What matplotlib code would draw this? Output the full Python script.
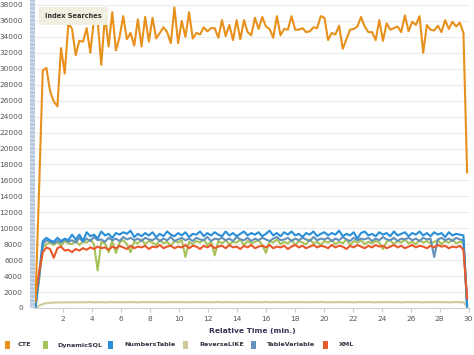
import numpy as np
import matplotlib
matplotlib.use("Agg")
import matplotlib.pyplot as plt
from matplotlib.patches import Rectangle

# ---------------- data ----------------
series_names = ["CTE", "DynamicSQL", "NumbersTable", "ReverseLIKE", "TableVariable", "XML"]
series_colors = ["#E8901C", "#A8C25A", "#2A8FD8", "#CDC99C", "#6590B8", "#E9582C"]

cte = [800, 15000, 29800, 30100, 27200, 25900, 25300, 32600, 29400, 35700, 35000, 31700, 33500, 33400,
       35100, 32000, 36200, 36000, 30500, 36700, 32800, 37100, 32300, 34000, 36600, 33700, 34500, 32900,
       36200, 32800, 36500, 33400, 36400, 33800, 34500, 35200, 34600, 33200,
       37700, 33200, 36000, 34000, 37100, 33800, 34500, 34300, 35200, 34700, 35100, 35100, 33900, 36100,
       34100, 35500, 33600, 36100, 33700, 36100, 34600, 34200, 36400, 35000, 36500, 35300, 35000, 33900,
       36600, 34200, 35000, 34900, 36600, 34900, 34900, 35100, 34600, 34700, 35200, 35100,
       36600, 36400, 33600, 34500, 34300, 35400, 32500, 33700, 34900, 35000, 35300, 36500, 35300, 34600,
       34600, 33600, 36100, 33500, 35700, 34900, 35100, 35300, 34600, 36700, 34700, 35900, 35500, 36600,
       32000, 35500, 34900, 34800, 35400, 34600, 36100, 35000, 35900, 35300, 35800, 34500, 17000]

dynamic_sql = [0, 3500, 7600, 8000, 8200, 7900, 8300, 7800, 8400, 8100,
               8000, 8500, 7900, 8300, 8200, 8600, 8000, 4700, 8300, 8100,
               7000, 8400, 6900, 8200, 8500, 8000, 7000, 8300, 8100, 8600,
               8000, 8400, 8200, 7900, 8500, 8100, 8300, 7800, 8400, 8200,
               8500, 6400, 8300, 8000, 8400, 8200, 8600, 7900, 8300, 6600,
               8400, 8100, 8500, 8000, 8300, 8200, 8600, 7900, 8400, 8100,
               8300, 8500, 7900, 6900, 8400, 8200, 8600, 8000, 8300, 8100,
               8500, 7900, 8400, 8200, 8000, 8600, 8100, 8300, 7900, 8400,
               8200, 8500, 8000, 8300, 8100, 8600, 7900, 8400, 8200, 8500,
               8000, 8300, 8100, 8400, 8200, 7400, 8300, 8500, 8000, 8400,
               8200, 8600, 8100, 8300, 8000, 8500, 8200, 8400, 8100, 8300,
               8500, 8000, 8400, 8200, 8600, 8100, 8300, 8200, 500]

numbers_table = [200, 4200, 8400, 8800, 8500, 8300, 8800, 8400, 8700, 8500,
                 9200, 8600, 9200, 8400, 9500, 9000, 9200, 8700, 9600, 9100,
                 9300, 8800, 9400, 9200, 9500, 9300, 9700, 8900, 9300, 9000,
                 9400, 9100, 9500, 8900, 9300, 9000, 9600, 9200, 9000, 9400,
                 9100, 9500, 8900, 9300, 9200, 9600, 9000, 9400, 9100, 9500,
                 9200, 9000, 9600, 9100, 9400, 9000, 9300, 9600, 9100, 9400,
                 9200, 9500, 9000, 9300, 9700, 9100, 9400, 9000, 9500, 9200,
                 9600, 9100, 9300, 8900, 9400, 9200, 9600, 9000, 9300, 9500,
                 9100, 9400, 9200, 9700, 9000, 9300, 9100, 9500, 8700, 9400,
                 9600, 9100, 9300, 9000, 9500, 9200, 9400, 9000, 9600, 9100,
                 9300, 9500, 9000, 9400, 9200, 9600, 9100, 9400, 9000, 9500,
                 9200, 9400, 8900, 9500, 9100, 9300, 9200, 9100, 300]

reverse_like = [0, 300, 500, 600, 650, 680, 700, 690, 710, 700,
                720, 700, 730, 710, 720, 740, 710, 730, 720, 700,
                730, 720, 740, 710, 730, 720, 750, 730, 710, 740,
                720, 730, 750, 720, 740, 710, 730, 750, 720, 740,
                730, 710, 740, 720, 750, 730, 720, 740, 710, 730,
                750, 720, 740, 730, 710, 740, 720, 750, 730, 720,
                740, 710, 730, 750, 720, 740, 730, 710, 740, 720,
                750, 730, 720, 740, 710, 730, 750, 720, 740, 730,
                710, 740, 720, 750, 730, 720, 740, 710, 730, 750,
                720, 740, 730, 710, 740, 720, 750, 730, 720, 740,
                710, 730, 750, 720, 740, 730, 710, 740, 720, 750,
                730, 720, 740, 710, 730, 740, 720, 730, 200]

table_variable = [0, 3800, 8000, 8500, 8300, 8100, 8400, 8200, 8600, 8300,
                  8500, 8200, 8800, 8300, 8700, 8400, 8900, 8500, 8600, 8300,
                  8800, 8500, 8700, 8400, 8900, 8600, 8800, 8500, 8700, 8400,
                  8800, 8600, 8500, 8800, 8400, 8700, 8500, 8900, 8400, 8600,
                  8800, 8500, 8700, 8400, 8800, 8600, 8500, 8900, 8400, 8700,
                  8600, 8800, 8500, 8700, 8400, 8900, 8600, 8500, 8800, 8400,
                  8700, 8500, 8800, 8600, 8400, 8700, 8900, 8500, 8600, 8800,
                  8400, 8700, 8500, 8800, 8600, 8400, 8900, 8500, 8700, 8600,
                  8800, 8400, 8700, 8500, 8900, 8600, 8400, 8800, 8500, 8700,
                  8600, 8800, 8400, 8700, 8500, 8900, 8600, 8500, 8800, 8400,
                  8700, 8600, 8800, 8500, 8700, 8400, 8800, 8600, 8700, 6400,
                  8600, 8800, 8500, 8700, 8400, 8800, 8600, 8500, 0]

xml = [1500, 4500, 7000, 7600, 7400, 6300, 7500, 7700, 7200, 7300,
       7000, 7400, 7200, 7500, 7300, 7600, 7400, 7700, 7500, 7600,
       7300, 7700, 7500, 7800, 7600, 7400, 7800, 7500, 7700, 7600,
       7800, 7400, 7700, 7600, 7900, 7500, 7700, 7800, 7500, 7700,
       7600, 7900, 7500, 7800, 7700, 7400, 7800, 7600, 7900, 7500,
       7700, 7800, 7500, 7900, 7600, 7700, 7400, 7800, 7600, 7900,
       7500, 7700, 7800, 7600, 7900, 7500, 7700, 7600, 7800, 7400,
       7700, 7900, 7600, 7800, 7500, 7700, 7900, 7600, 7800, 7700,
       7500, 7900, 7600, 7800, 7700, 7400, 7800, 7600, 7900, 7700,
       7500, 7800, 7600, 7900, 7700, 7800, 7500, 7700, 7900, 7600,
       7800, 7500, 7700, 7900, 7600, 7800, 7700, 7500, 7800, 7600,
       7900, 7700, 7800, 7500, 7700, 7600, 7800, 7300, 1200]

x_ticks = [2, 4, 6, 8, 10, 12, 14, 16, 18, 20, 22, 24, 26, 28, 30]
y_ticks = list(range(0, 38001, 2000))
t_start, t_end = 0.1, 29.9

all_series = [cte, dynamic_sql, numbers_table, reverse_like, table_variable, xml]

# ---------------- figure ----------------
W, H = 474, 355
fig = plt.figure(figsize=(W / 100, H / 100), dpi=100)
fig.patch.set_facecolor("white")

left_px, right_px, top_px, bottom_px = 34, 470, 3.4, 308
ax = fig.add_axes([left_px / W, 1 - bottom_px / H, (right_px - left_px) / W, (bottom_px - top_px) / H])
ax.set_xlim(0, 30.1)
ax.set_ylim(0, 38200)

order = [3, 1, 4, 2, 5, 0]
for i in order:
    vals = all_series[i]
    t = np.linspace(t_start, t_end, len(vals))
    ax.plot(t, vals, color=series_colors[i], lw=1.5, solid_joinstyle="round", zorder=3 + (i == 0))

ax.set_yticks(y_ticks)
ax.set_yticklabels([str(v) for v in y_ticks])
ax.set_xticks(x_ticks)
ax.set_xticklabels([str(v) for v in x_ticks])
ax.tick_params(axis="both", labelsize=5.3, colors="#555555", length=0, pad=3)
ax.tick_params(axis="y", pad=8)
ax.tick_params(axis="x", length=3, color="#cccccc", direction="out", pad=3)
ax.grid(axis="y", color="#ececec", lw=0.8)
ax.set_axisbelow(True)
for s in ["top", "right", "left"]:
    ax.spines[s].set_visible(False)
ax.spines["bottom"].set_color("#d0d0d0")
ax.spines["bottom"].set_linewidth(0.8)

ax.set_xlabel("Relative Time (min.)", fontsize=5.4, fontweight="bold", color="#333355", labelpad=4)

# striped bar on the left of the plot
bar_x0, bar_w = 30, 5
fig.patches.append(Rectangle((bar_x0 / W, 1 - bottom_px / H), bar_w / W, (bottom_px - 0) / H,
                             transform=fig.transFigure, facecolor="#b9c9dd", edgecolor="none", zorder=1))
for yy in np.arange(2, bottom_px, 4):
    fig.patches.append(Rectangle((bar_x0 / W, 1 - (yy + 1.2) / H), bar_w / W, 1.2 / H,
                                 transform=fig.transFigure, facecolor="#dbe4ee", edgecolor="none", zorder=2))

# title box
ax.text(0.75, 36600, "Index Searches", fontsize=4.8, fontweight="bold", color="#333333",
        va="center", ha="left", zorder=5,
        bbox=dict(boxstyle="square,pad=0.9", facecolor="#f1efe2", edgecolor="none"))

# legend
legend_marker_x = [5, 43, 108, 183, 251, 323]
legend_label_x = [18, 57, 124, 199, 267, 339]
for i, name in enumerate(series_names):
    fig.patches.append(Rectangle((legend_marker_x[i] / W, 1 - 349 / H), 5 / W, 8 / H,
                                 transform=fig.transFigure, facecolor=series_colors[i], edgecolor="none"))
    fig.text(legend_label_x[i] / W, 1 - 345 / H, name, fontsize=4.6, fontweight="bold",
             color="#333344", va="center", ha="left")

fig.savefig("out.png", dpi=100)
